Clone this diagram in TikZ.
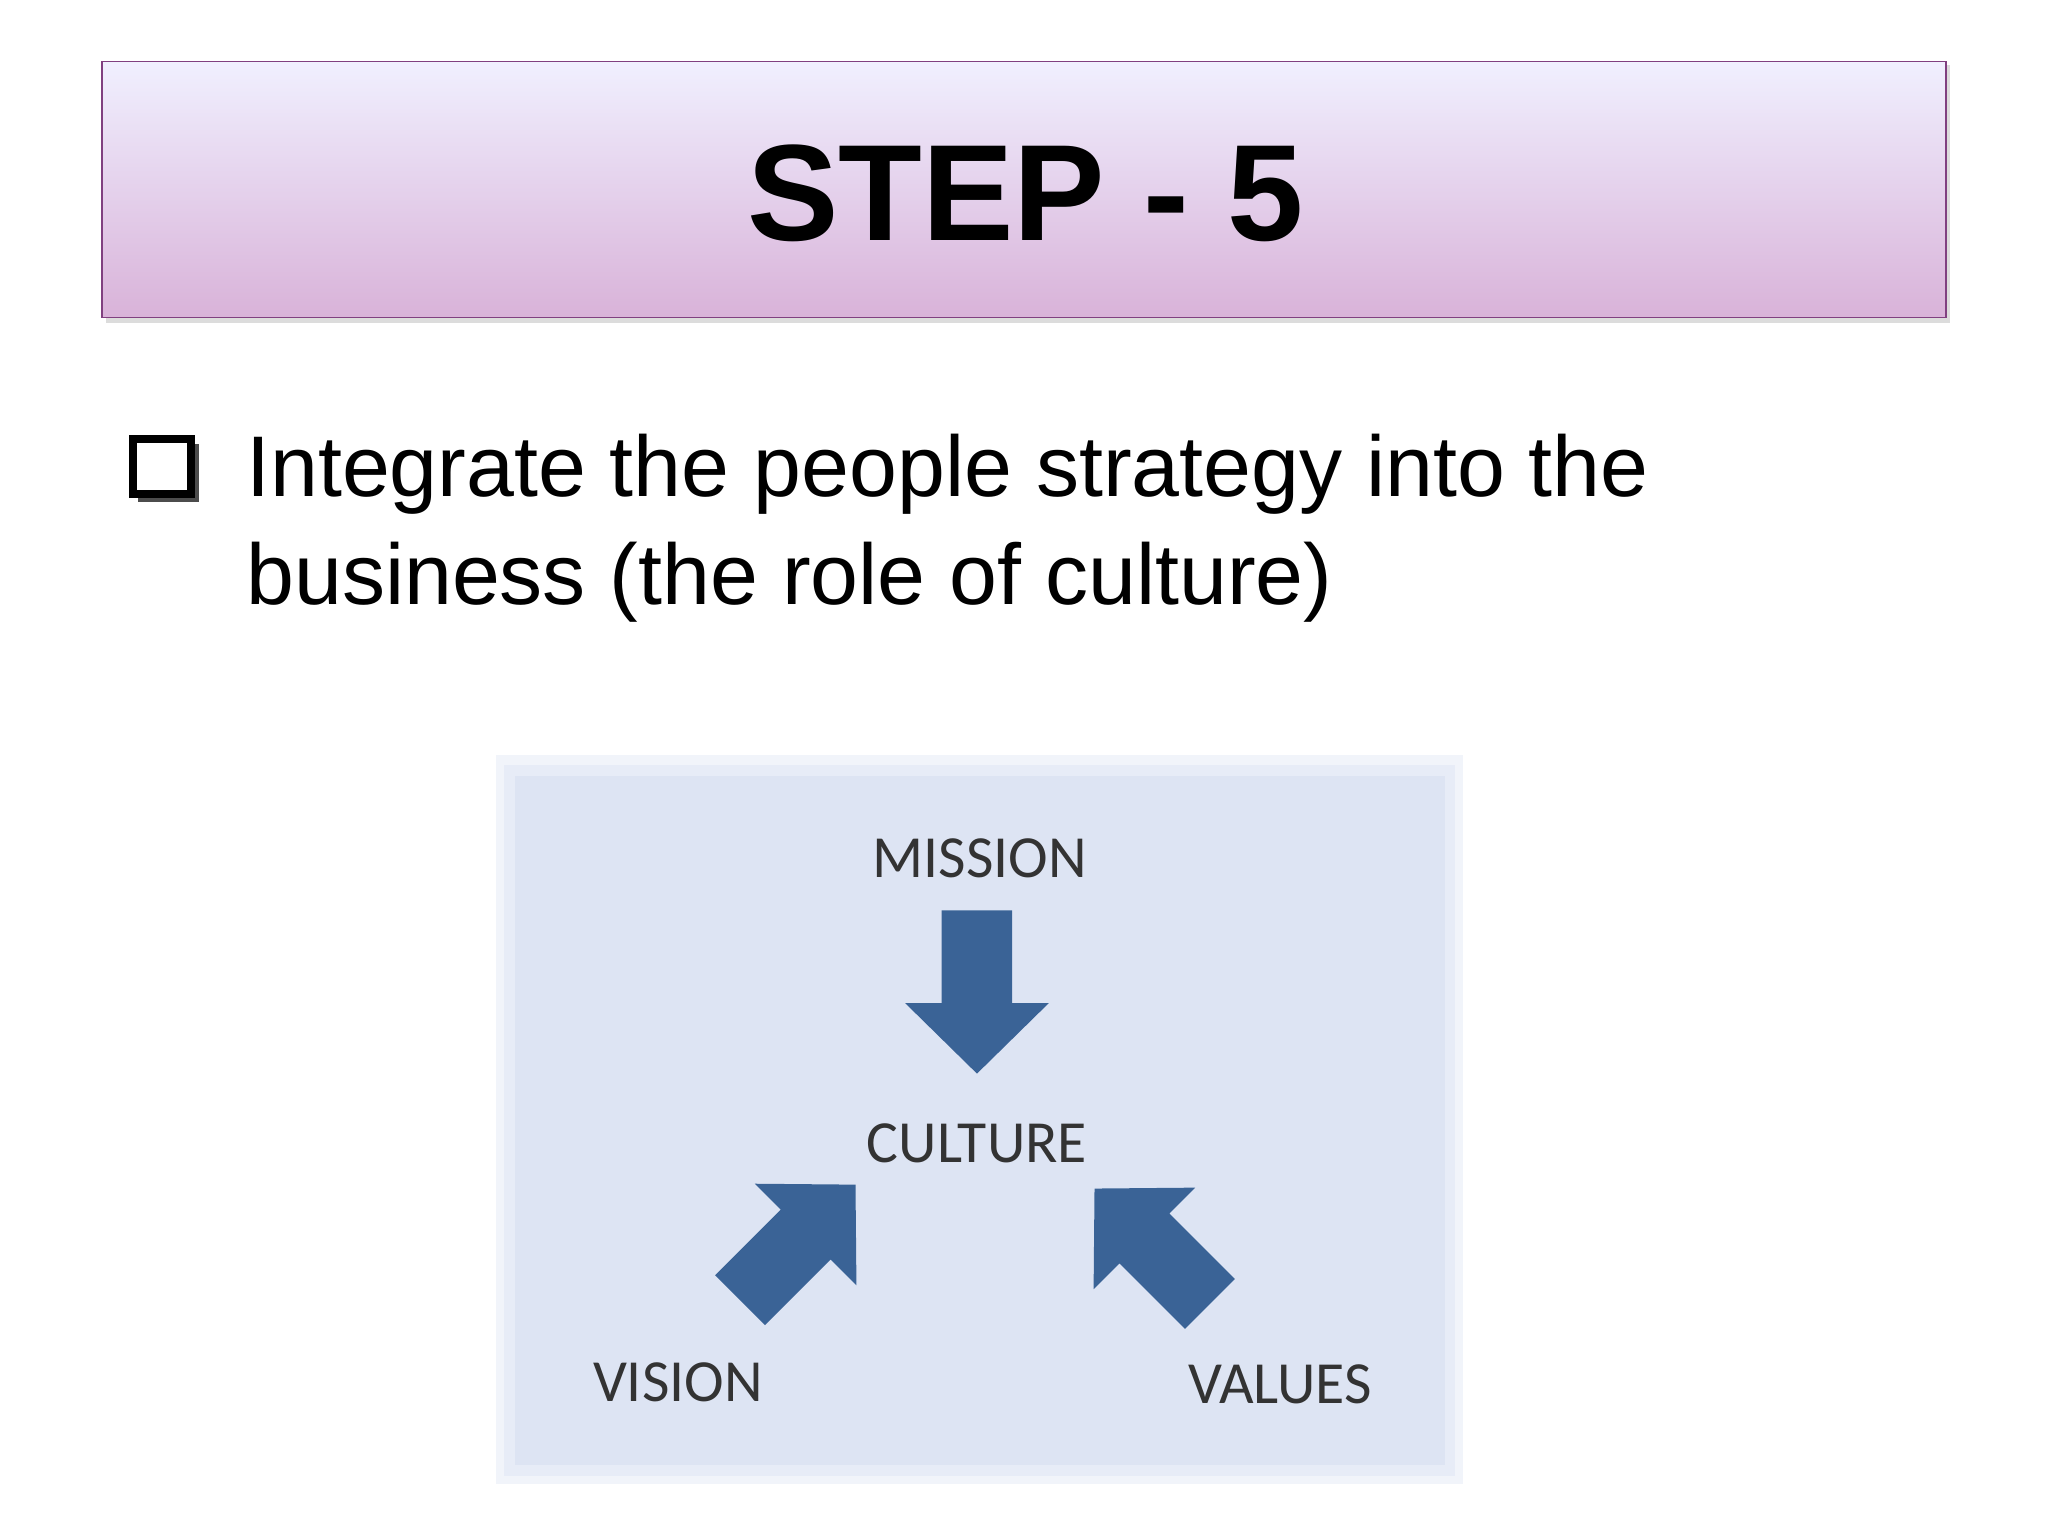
\documentclass[tikz,border=0pt]{standalone}
\usepackage{fontspec}
\setmainfont{Liberation Sans}
\newfontfamily\carfont{Carlito}
\definecolor{arr}{HTML}{3A6396}
\definecolor{pan}{HTML}{DDE4F3}
\begin{document}
\begin{tikzpicture}[x=0.013061cm,y=-0.013061cm,
  lab/.style={font=\carfont\fontsize{17}{17}\selectfont,text=black!80},
  bigarrow/.style={fill=arr,draw=none}]
\useasboundingbox[fill=white] (0,0) rectangle (1568,1176);
% header
\fill[black!45,opacity=0.3] (81,50) rectangle (1493,247);
\path[top color=purple!4!blue!6!white,bottom color=violet!30!white,draw=violet!50!gray] (78,47) rectangle (1490,243);
\node[font=\bfseries\fontsize{39}{39}\selectfont] (title) at (785,148) {STEP - 5};
% bullet
\fill[black!70] (106,340) rectangle (152,384);
\draw[line width=2.2pt,fill=white] (102,336) rectangle (146,378);
\node[anchor=base west,font=\fontsize{24.5}{24.5}\selectfont,inner sep=0] (l1) at (188,380) {Integrate the people strategy into the};
\node[anchor=base west,font=\fontsize{24.5}{24.5}\selectfont,inner sep=0] (l2) at (188,463) {business (the role of culture)};
% panel
\fill[pan!40] (380,578) rectangle (1120,1136);
\fill[pan!70] (386,586) rectangle (1114,1130);
\fill[pan] (394,594) rectangle (1106,1122);
\node[lab] (mission) at (750,657) {MISSION};
\node[lab] (culture) at (748,875) {CULTURE};
\node[lab] (vision) at (519,1058) {VISION};
\node[lab] (values) at (980,1060) {VALUES};
\def\arrowshape{(-27,-125) -- (27,-125) -- (27,-54) -- (55,-54) -- (0,0) -- (-55,-54) -- (-27,-54) -- cycle}
\begin{scope}[shift={(748,822)}] \fill[arr] \arrowshape; \end{scope}
\begin{scope}[shift={(655,907)},rotate=135] \fill[arr] \arrowshape; \end{scope}
\begin{scope}[shift={(838,910)},rotate=-135] \fill[arr] \arrowshape; \end{scope}
\end{tikzpicture}
\end{document}
